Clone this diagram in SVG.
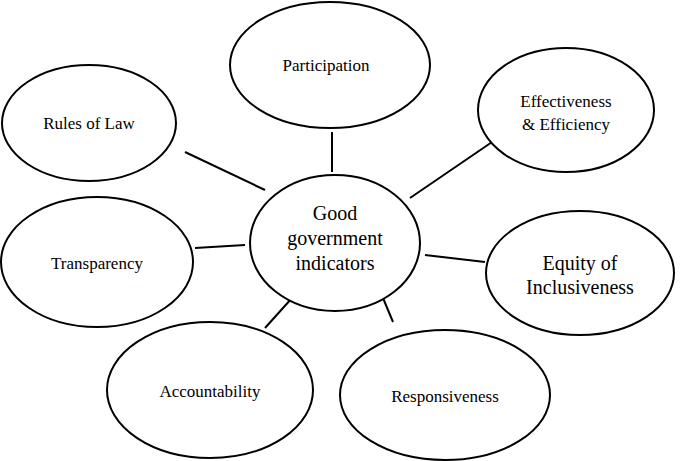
<svg xmlns="http://www.w3.org/2000/svg" width="685" height="461" viewBox="0 0 685 461">
<style>
ellipse{fill:#fff;stroke:#000;stroke-width:2}
line{stroke:#000;stroke-width:2}
text{font-family:"Liberation Serif",serif;font-size:17px;text-anchor:middle;fill:#000}
.big{font-size:20px}
</style>
<rect width="685" height="461" fill="#fff"/>
<g id="connectors">
<line x1="332" y1="132" x2="332" y2="172"/>
<line x1="185" y1="152" x2="265" y2="190"/>
<line x1="410" y1="198" x2="495" y2="140"/>
<line x1="195" y1="248" x2="245" y2="245"/>
<line x1="425" y1="255" x2="485" y2="262"/>
<line x1="265" y1="328" x2="292" y2="298"/>
<line x1="383" y1="298" x2="393" y2="322"/>
</g>
<g id="center"><ellipse cx="335" cy="243" rx="85" ry="68"/><text class="big" x="335" y="220">Good</text><text class="big" x="335" y="245">government</text><text class="big" x="335" y="270">indicators</text></g>
<g id="participation"><ellipse cx="330" cy="65" rx="100" ry="63"/><text x="326" y="71">Participation</text></g>
<g id="rules"><ellipse cx="89" cy="123" rx="87" ry="58"/><text x="89" y="129">Rules of Law</text></g>
<g id="effectiveness"><ellipse cx="566" cy="110" rx="88" ry="62"/><text x="566" y="107">Effectiveness</text><text x="566" y="130">&amp; Efficiency</text></g>
<g id="transparency"><ellipse cx="97" cy="262" rx="96" ry="65"/><text x="97" y="269">Transparency</text></g>
<g id="equity"><ellipse cx="580" cy="273" rx="94" ry="62"/><text class="big" x="580" y="270" style="font-size:20px">Equity of</text><text class="big" x="580" y="294" style="font-size:20px">Inclusiveness</text></g>
<g id="accountability"><ellipse cx="210" cy="390" rx="103" ry="68"/><text x="210" y="397">Accountability</text></g>
<g id="responsiveness"><ellipse cx="445" cy="395" rx="105" ry="65"/><text x="445" y="402">Responsiveness</text></g>
</svg>
